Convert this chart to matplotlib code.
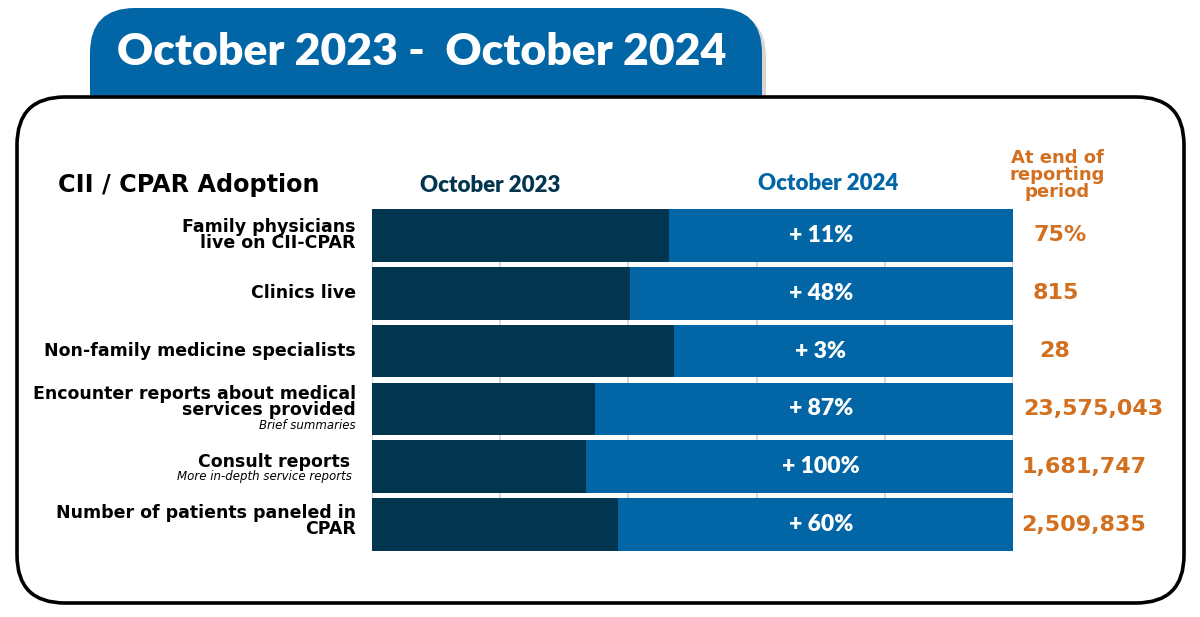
import matplotlib
matplotlib.use("Agg")
import matplotlib.pyplot as plt
from matplotlib.patches import FancyBboxPatch
from matplotlib.transforms import blended_transform_factory
import numpy as np

# ---------------- data ----------------
categories = [
    "Family physicians\nlive on CII-CPAR",
    "Clinics live",
    "Non-family medicine specialists",
    "Encounter reports about medical\nservices provided",
    "Consult reports ",
    "Number of patients paneled in\nCPAR",
]
subnotes = ["", "", "", "Brief summaries", "More in-depth service reports", ""]
oct2023_share = [46.3, 40.2, 47.1, 34.8, 33.4, 38.3]
oct2024_share = [53.7, 59.8, 52.9, 65.2, 66.6, 61.7]
growth_labels = ["+ 11%", "+ 48%", "+ 3%", "+ 87%", "+ 100%", "+ 60%"]
end_values = ["75%", "815", "28", "23,575,043", "1,681,747", "2,509,835"]

# ---------------- style ----------------
DARK = "#02354f"
BLUE = "#0165a6"
ORANGE = "#d2701f"
LABEL_FONT = "DejaVu Sans"
HEAD_FONT = "Lato"

W, H = 1200, 617
fig = plt.figure(figsize=(W / 100, H / 100), dpi=100)

# background canvas in pixel units
bg = fig.add_axes([0, 0, 1, 1], zorder=0)
bg.set_xlim(0, W)
bg.set_ylim(H, 0)
bg.axis("off")

# title tab shadow + tab
bg.add_patch(FancyBboxPatch((94, 12), 672, 140, boxstyle="round,pad=0,rounding_size=45",
                            fc="#9a9a9a", ec="none", alpha=0.4))
bg.add_patch(FancyBboxPatch((90, 8), 672, 140, boxstyle="round,pad=0,rounding_size=45",
                            fc=BLUE, ec="none"))
bg.text(422, 52, "October 2023 -  October 2024", color="white", fontsize=32,
        fontweight="heavy", family=HEAD_FONT, ha="center", va="center")

# main rounded box
bg.add_patch(FancyBboxPatch((17, 97), 1167, 506, boxstyle="round,pad=0,rounding_size=48",
                            fc="white", ec="black", lw=2.6))

# headers
bg.text(58, 185, "CII / CPAR Adoption", color="black", fontsize=17.2, fontweight="bold",
        family=LABEL_FONT, ha="left", va="center")
bg.text(490, 185, "October 2023", color=DARK, fontsize=16, fontweight="heavy",
        family=HEAD_FONT, ha="center", va="center")
bg.text(828, 183, "October 2024", color=BLUE, fontsize=16, fontweight="heavy",
        family=HEAD_FONT, ha="center", va="center")
bg.text(1057, 175, "At end of\nreporting\nperiod", color=ORANGE, fontsize=13,
        fontweight="bold", family=LABEL_FONT, ha="center", va="center", linespacing=0.95)

# ---------------- bars ----------------
ax = fig.add_axes([372 / W, 1 - 551 / H, 641 / W, 342 / H], zorder=1)
ax.patch.set_alpha(0)
n = len(categories)
y = np.arange(n)
h = 0.91
ax.barh(y, oct2023_share, height=h, color=DARK, zorder=2)
ax.barh(y, oct2024_share, left=oct2023_share, height=h, color=BLUE, zorder=2)
ax.set_xlim(0, 100)
ax.set_ylim(n - 1 + h / 2, -h / 2)
ax.set_xticks([0, 20, 40, 60, 80, 100])
ax.set_yticks([])
ax.grid(axis="x", color="#d4d4d4", lw=1.3, zorder=0)
ax.set_axisbelow(True)
ax.tick_params(length=0, labelbottom=False)
for s in ax.spines.values():
    s.set_visible(False)

for i, lab in enumerate(growth_labels):
    ax.text(70, i, lab, color="white", fontsize=16.5, fontweight="heavy",
            family=HEAD_FONT, ha="center", va="center", zorder=3)

# row labels (x in pixels, y in data)
tr = blended_transform_factory(bg.transData, ax.transData)
label_dy = [0, 0, 0, -0.12, -0.09, -0.07]
note_dy = [0, 0, 0, 0.29, 0.17, 0]
for i, (lab, note) in enumerate(zip(categories, subnotes)):
    ax.text(356, i + label_dy[i], lab, transform=tr, color="black", fontsize=12.5,
            fontweight="bold", family=LABEL_FONT, ha="right", va="center",
            linespacing=0.85)
    if note:
        ax.text(356 if i == 3 else 352, i + note_dy[i], note, transform=tr, color="black",
                fontsize=8.5, style="italic", family=LABEL_FONT, ha="right", va="center")

value_x = [1060, 1056, 1055, 1093, 1084, 1084]
for i, v in enumerate(end_values):
    ax.text(value_x[i], i, v, transform=tr, color=ORANGE, fontsize=16,
            fontweight="bold", family=LABEL_FONT, ha="center", va="center")

fig.savefig("out.png", dpi=100)
